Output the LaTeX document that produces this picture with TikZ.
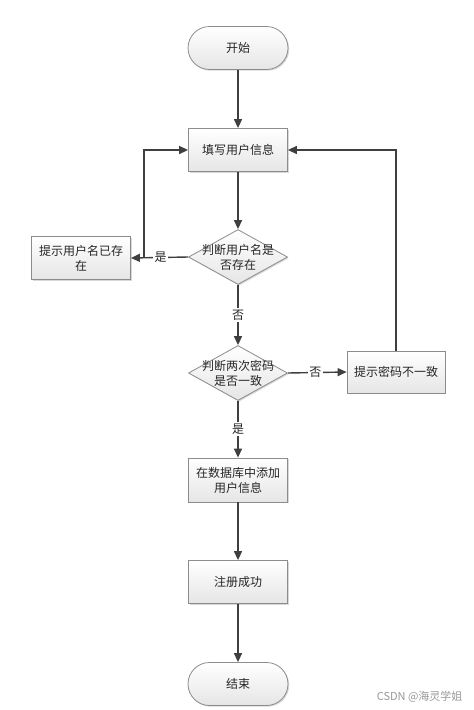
\documentclass[tikz,border=0pt]{standalone}
\usepackage{fontspec}
\setmainfont{Noto Sans CJK SC}
\usetikzlibrary{shapes.geometric,arrows.meta,shadows}
\definecolor{linec}{HTML}{3F3F3F}
\definecolor{borderc}{HTML}{8C8C8C}
\begin{document}
\begin{tikzpicture}[x=1pt,y=-1pt,
  font=\fontsize{12}{15}\selectfont,
  base/.style={draw=borderc,line width=0.8pt,top color=white,bottom color=black!10,
     drop shadow={shadow xshift=1.2pt,shadow yshift=-1.2pt,fill=black!25,opacity=0.6},
     text=black!85},
  procbox/.style={base,rectangle,minimum width=99pt,minimum height=43pt,inner sep=2pt,align=center},
  termbox/.style={base,rectangle,rounded corners=21.5pt,minimum width=100pt,minimum height=43pt},
  decbox/.style={base,diamond,minimum width=99pt,minimum height=55pt,inner sep=0pt},
  conn/.style={draw=linec,line width=1.4pt,-{Triangle[length=9pt,width=8pt]}},
  lbl/.style={fill=white,inner sep=1.5pt,text=black!85}
]
\useasboundingbox (0,0) rectangle (474,710);
\fill[white] (0,0) rectangle (474,710);

\node[termbox] (start) at (238,48) {开始};
\node[procbox] (fill) at (238,150) {填写用户信息};
\node[decbox] (d1) at (238,257) {};
\node[align=center,text=black!85] (d1t) at (238,257) {判断用户名是\\否存在};
\node[procbox] (exist) at (81,258) {提示用户名已存\\在};
\node[decbox] (d2) at (238,373) {};
\node[align=center,text=black!85] (d2t) at (238,373) {判断两次密码\\是否一致};
\node[procbox,minimum width=98pt,minimum height=42pt] (mismatch) at (396,372) {提示密码不一致};
\node[procbox,minimum height=44pt] (add) at (238,480) {在数据库中添加\\用户信息};
\node[procbox] (ok) at (238,582) {注册成功};
\node[termbox] (end) at (238,684) {结束};

\coordinate (c1) at (144,258);

\draw[conn] (start) -- (fill);
\draw[conn] (fill) -- (d1);
\draw[conn] (d1.west) -- node[lbl,pos=0.48] (l1) {是} (exist.east);
\draw[conn] (c1) |- (fill.west);
\draw[conn] (d1.south) -- node[lbl,pos=0.5] (l2) {否} (d2.north);
\draw[conn] (d2.east) -- node[lbl,pos=0.47] (l3) {否} (mismatch.west);
\draw[conn] (mismatch.north) |- (fill.east);
\draw[conn] (d2.south) -- node[lbl,pos=0.5] (l4) {是} (add.north);
\draw[conn] (add) -- (ok);
\draw[conn] (ok) -- (end);

\node[text=black!40,font=\fontsize{11}{13}\selectfont,anchor=east] (wm) at (466,697) {CSDN @海灵学姐};
\end{tikzpicture}
\end{document}
